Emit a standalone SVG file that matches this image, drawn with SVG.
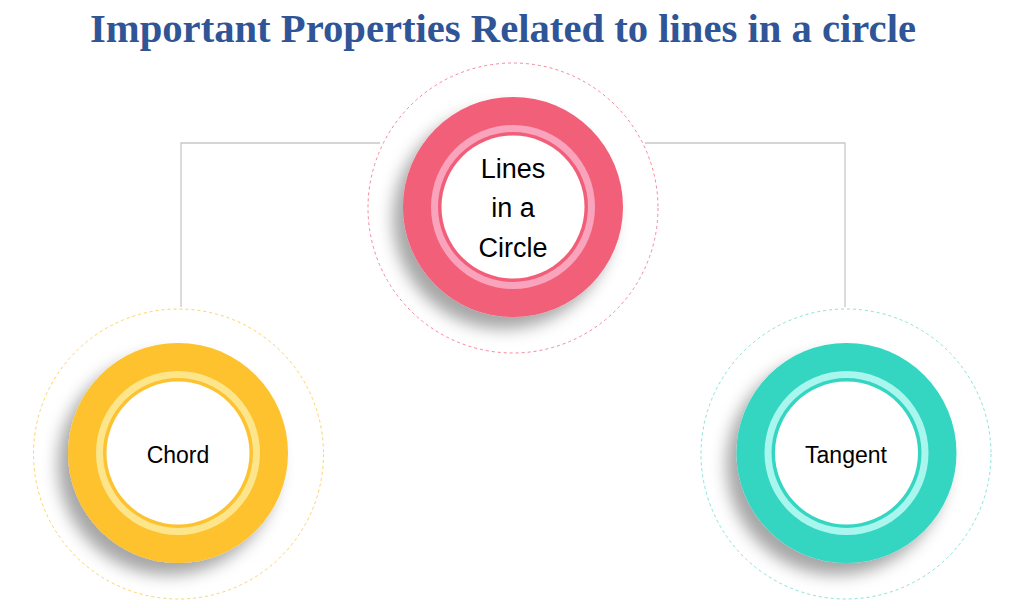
<svg xmlns="http://www.w3.org/2000/svg" width="1024" height="608" viewBox="0 0 1024 608">
  <defs>
    <filter id="shadow" x="-40%" y="-40%" width="180%" height="180%">
      <feDropShadow dx="-10" dy="12" stdDeviation="8" flood-color="#000000" flood-opacity="0.35"/>
    </filter>
  </defs>
  <style>
    .title { font-family: "Liberation Serif", "DejaVu Serif", serif; font-weight: bold; font-size: 40px; fill: #2F5597; }
    .label { font-family: "Liberation Sans", Arial, sans-serif; fill: #000000; text-anchor: middle; }
    .halo { fill: none; stroke-width: 1; stroke-dasharray: 3 3; }
    .conn { fill: none; stroke: #C8C8C8; stroke-width: 1.3; }
    .white { fill: #FFFFFF; }
  </style>
  <rect width="1024" height="608" fill="#FFFFFF"/>
  <text class="title" x="90" y="42" textLength="826" lengthAdjust="spacingAndGlyphs">Important Properties Related to lines in a circle</text>

  <g id="connectors">
    <polyline class="conn" points="380,143 181,143 181,307"/>
    <polyline class="conn" points="645,143 845,143 845,307"/>
  </g>

  <g id="node-lines">
    <circle class="halo" cx="513" cy="208" r="145" stroke="#F4889C"/>
    <circle cx="513" cy="207" r="110" fill="#F25E78" filter="url(#shadow)"/>
    <circle cx="513" cy="207" r="82" fill="#F9A4BC"/>
    <circle cx="513" cy="207" r="75" fill="#F25E78"/>
    <circle class="white" cx="513" cy="207" r="71.5"/>
    <text class="label" font-size="27"><tspan x="513" y="178">Lines</tspan><tspan x="513" y="217">in a</tspan><tspan x="513" y="257">Circle</tspan></text>
  </g>

  <g id="node-chord">
    <circle class="halo" cx="178.5" cy="454" r="145" stroke="#FBD36A"/>
    <circle cx="178" cy="453" r="110" fill="#FDC22F" filter="url(#shadow)"/>
    <circle cx="178" cy="453" r="82" fill="#FDE58C"/>
    <circle cx="178" cy="453" r="75" fill="#FDC22F"/>
    <circle class="white" cx="178" cy="453" r="71.5"/>
    <text class="label" font-size="23" x="178" y="463">Chord</text>
  </g>

  <g id="node-tangent">
    <circle class="halo" cx="846" cy="454" r="145" stroke="#86E3D8"/>
    <circle cx="846.5" cy="453" r="110" fill="#35D6C1" filter="url(#shadow)"/>
    <circle cx="846.5" cy="453" r="82" fill="#A9F6EF"/>
    <circle cx="846.5" cy="453" r="75" fill="#35D6C1"/>
    <circle class="white" cx="846.5" cy="453" r="71.5"/>
    <text class="label" font-size="23" x="846" y="463">Tangent</text>
  </g>
</svg>
